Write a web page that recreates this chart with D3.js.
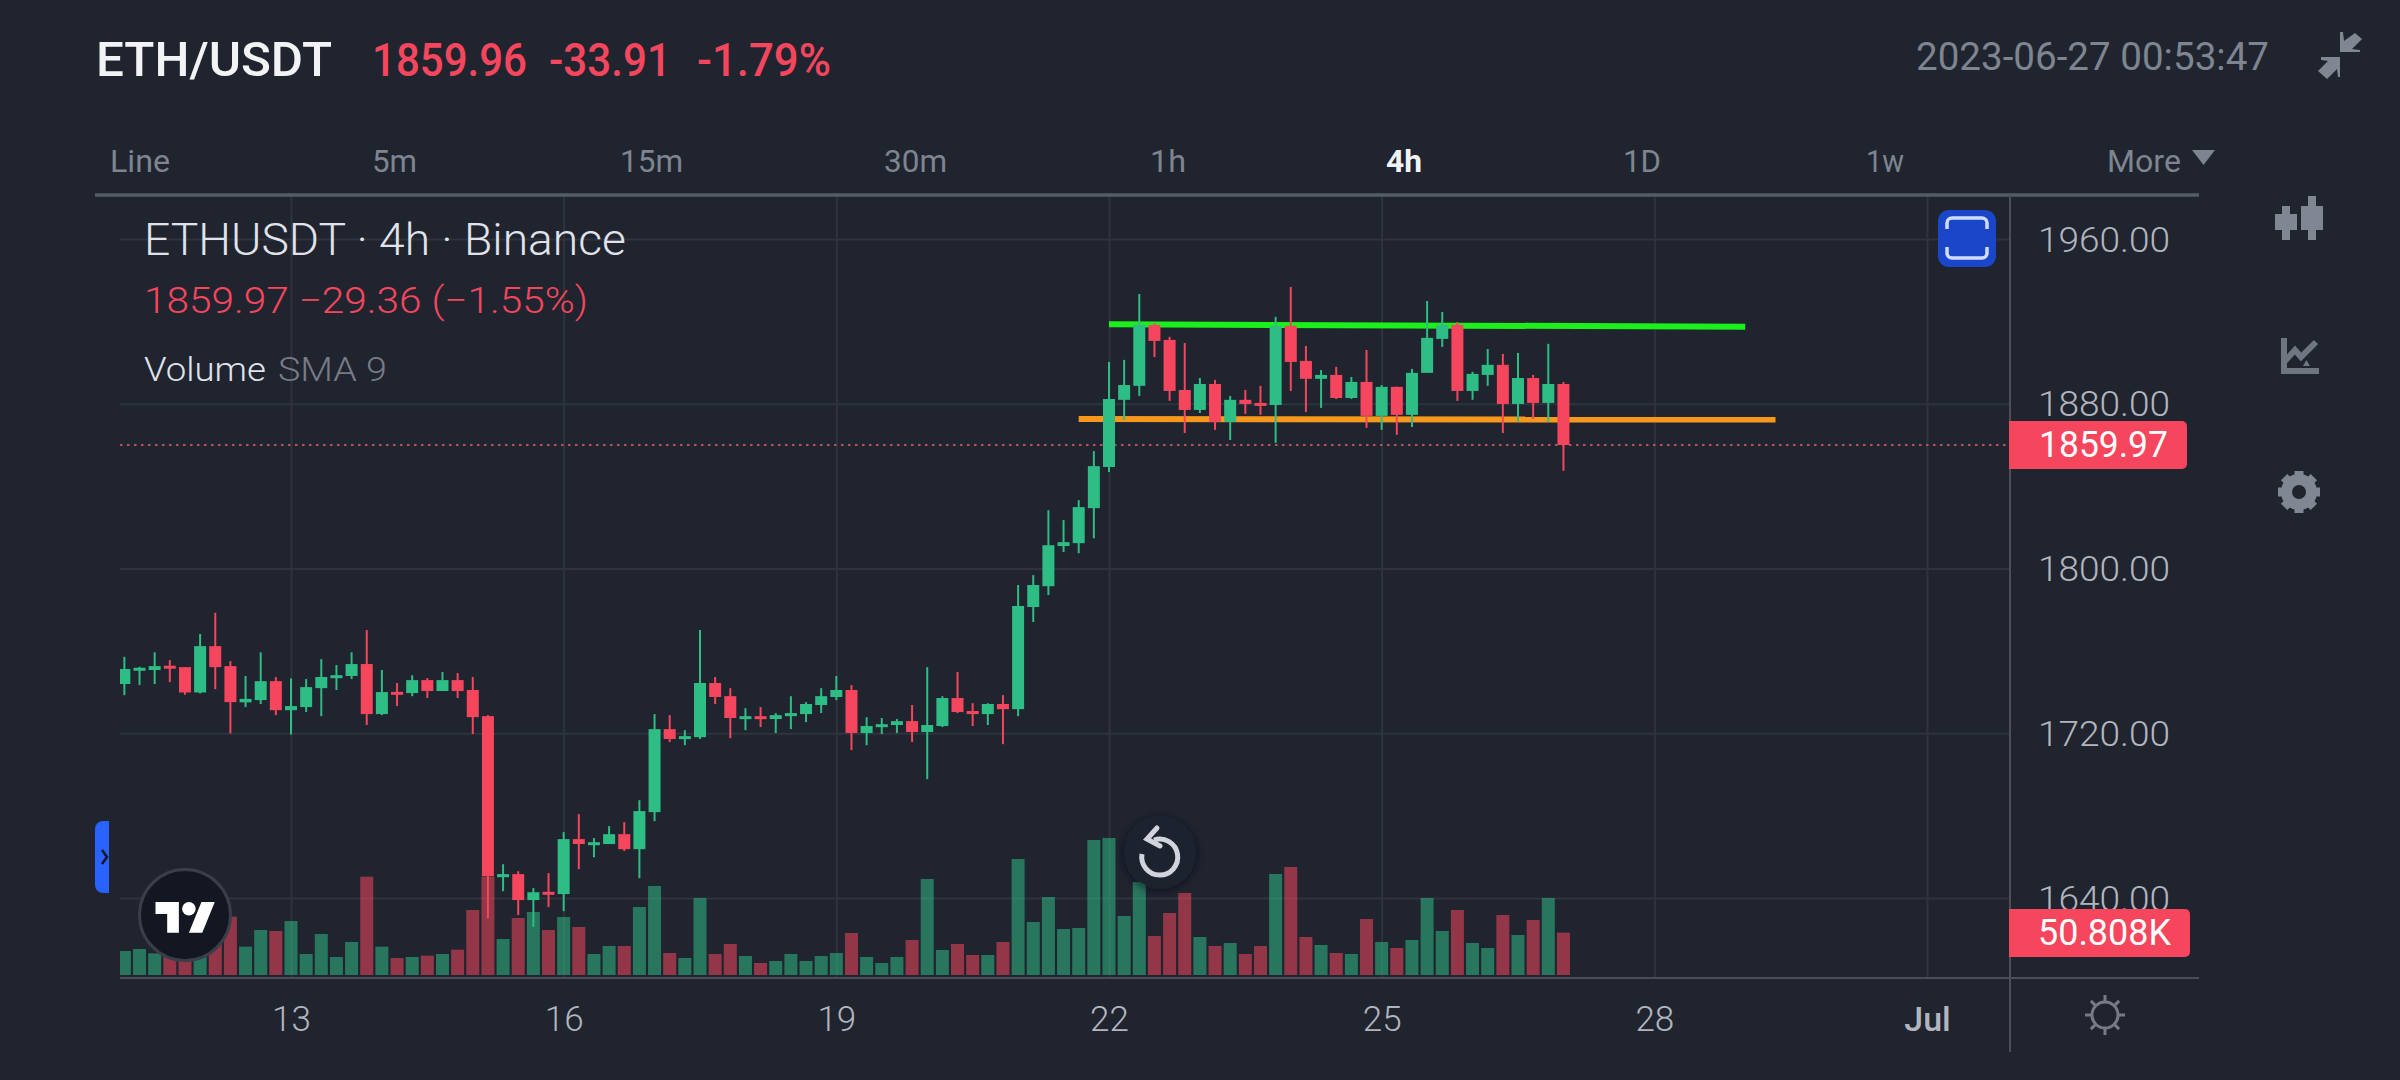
<!DOCTYPE html>
<html><head><meta charset="utf-8">
<script src="https://cdn.jsdelivr.net/npm/d3@7/dist/d3.min.js"></script>
<style>html,body{margin:0;padding:0;background:#1f242f;overflow:hidden}svg{display:block}text{font-family:Roboto,"Open Sans",sans-serif}</style>
</head><body><svg id="c" width="2400" height="1080"></svg>
<script>
const opens=[1743.9,1750.4,1750.7,1752.8,1752.1,1739.8,1762.3,1752.6,1735.0,1736.1,1745.3,1731.2,1732.7,1741.9,1746.8,1747.8,1753.6,1729.3,1740.1,1739.5,1745.8,1740.5,1745.8,1741.0,1728.3,1650.1,1651.6,1639.0,1643.0,1641.9,1668.6,1665.8,1666.2,1671.0,1663.7,1681.7,1722.0,1717.2,1718.1,1744.4,1738.0,1727.4,1728.3,1726.9,1728.3,1729.3,1733.7,1737.6,1741.0,1720.1,1723.0,1724.0,1725.9,1720.6,1723.5,1737.1,1730.8,1729.3,1734.2,1731.7,1781.3,1791.4,1810.9,1812.3,1829.3,1849.3,1881.9,1888.7,1918.3,1911.0,1886.7,1877.0,1889.6,1871.2,1881.9,1880.4,1879.4,1917.8,1900.8,1892.1,1894.0,1882.8,1890.6,1874.1,1888.2,1874.6,1895.0,1911.5,1918.3,1886.2,1894.0,1898.9,1879.9,1892.5,1880.4,1889.6];
const highs=[1757.1,1752.3,1759.3,1755.5,1752.1,1768.2,1778.5,1755.0,1747.8,1759.3,1747.3,1746.6,1746.3,1756.0,1753.1,1759.3,1770.1,1750.7,1744.4,1748.2,1746.8,1749.7,1749.2,1747.3,1728.8,1656.4,1653.0,1644.8,1652.1,1672.0,1680.7,1669.1,1674.9,1676.8,1687.5,1729.3,1728.8,1721.5,1770.1,1747.3,1741.9,1732.2,1732.7,1729.8,1738.0,1735.1,1741.9,1747.8,1743.4,1727.8,1727.4,1726.9,1733.7,1752.1,1738.0,1749.7,1734.6,1734.6,1738.5,1792.0,1796.8,1828.3,1823.5,1833.2,1857.0,1900.3,1901.3,1933.3,1919.1,1912.5,1909.5,1892.5,1891.6,1883.8,1886.7,1888.7,1922.2,1936.7,1908.1,1896.4,1897.9,1893.0,1906.1,1889.1,1888.3,1896.9,1929.9,1924.6,1919.7,1895.5,1906.6,1904.2,1904.7,1894.0,1909.1,1890.6];
const lows=[1738.5,1743.4,1743.9,1744.8,1738.7,1739.3,1741.4,1719.9,1732.7,1734.2,1728.8,1719.4,1730.3,1728.3,1741.0,1746.3,1724.0,1728.8,1733.2,1738.0,1737.1,1740.5,1737.1,1719.6,1630.1,1643.3,1631.7,1626.0,1635.6,1633.6,1654.0,1659.8,1666.2,1662.8,1649.6,1677.3,1715.7,1714.2,1717.2,1734.2,1717.6,1721.5,1723.0,1720.1,1722.0,1725.4,1729.8,1736.1,1711.8,1714.2,1719.6,1720.1,1715.7,1697.7,1723.0,1729.8,1723.5,1724.0,1714.7,1728.3,1774.0,1787.1,1808.0,1807.4,1814.7,1846.9,1872.1,1883.8,1902.7,1881.4,1865.8,1875.5,1867.3,1862.4,1875.1,1874.6,1861.0,1886.2,1876.0,1878.0,1882.3,1882.3,1868.3,1867.3,1864.9,1868.7,1895.0,1907.6,1881.4,1881.9,1888.7,1865.8,1871.2,1872.6,1871.2,1847.4];
const closes=[1751.2,1751.8,1752.6,1751.6,1739.8,1762.3,1752.1,1735.1,1736.7,1745.3,1731.2,1733.2,1742.4,1747.3,1748.2,1753.6,1729.3,1740.0,1739.2,1745.8,1740.5,1745.8,1740.5,1727.8,1650.6,1651.6,1639.0,1642.8,1641.9,1668.6,1666.2,1667.1,1671.0,1663.7,1682.2,1722.0,1717.2,1718.6,1744.4,1737.6,1727.4,1728.3,1726.9,1728.8,1729.8,1734.2,1738.0,1741.0,1720.1,1723.5,1724.4,1725.9,1720.6,1724.0,1737.1,1730.3,1729.3,1734.2,1731.7,1781.8,1792.0,1811.3,1812.8,1829.8,1849.7,1882.3,1889.1,1918.3,1910.5,1886.2,1877.0,1889.6,1871.2,1881.9,1879.9,1879.4,1917.8,1900.3,1892.1,1894.0,1882.8,1890.6,1874.1,1888.2,1874.6,1895.0,1912.0,1918.3,1886.2,1894.5,1898.9,1879.9,1892.5,1880.4,1889.6,1859.97];
const volumes=[28.8,31.2,26,25,32,28,40,70,34,54,52.8,64.8,25.2,49.2,21.6,39.6,118,34,20.4,21.6,23.2,25.2,30.4,78,118,43.2,68.4,75.6,54,69.6,57.6,25.2,34.8,34.8,81.6,106.8,26.4,20.4,92.4,25.2,37.2,22.8,14.4,16.8,25.2,16.8,22.8,26.4,50.4,21.6,14.4,21.6,42,115.2,30,37.2,24,24,39.6,139.2,63.6,93.6,55.2,56.4,162,164.4,70.8,111.6,46.8,74.4,98.4,45.6,34.8,38.4,25.2,34.8,121.2,129.6,45.6,36,26.4,25.2,67.2,39.6,32.4,42,92.4,52.8,78,38.4,32.4,72,48,66,92.4,50.808];
const priceTicks=[1960,1880,1800,1720,1640];
const dayTicks=[13,16,19,22,25,28];
const intervals=["Line","5m","15m","30m","1h","4h","1D","1w"];
const lastPrice=1859.97;
const firstBar=Date.UTC(2023,5,11,4), barMs=4*3600e3;
const greenLine={from:Date.UTC(2023,5,22,0),to:Date.UTC(2023,5,29,0),p0:1918.6,p1:1917.4};
const orangeLine={from:Date.UTC(2023,5,21,16),to:Date.UTC(2023,5,29,8),p0:1872.6,p1:1872.3};

const GREEN="#2ebd85",RED="#f6465d",GRID="#2e333d",AXIS="#4a4e57",TXT="#b2b5be",MUTE="#787b86";
const svg=d3.select("#c");
const L=120,R=2010,T=195,B=978;
const x=d3.scaleUtc().domain([new Date(Date.UTC(2023,5,13)),new Date(Date.UTC(2023,6,1))]).range([291,1927]);
const y=d3.scaleLinear().domain([1640,1960]).range([898,239]);
const v=d3.scaleLinear().domain([0,120]).range([975,875]);
const t=i=>new Date(firstBar+i*barMs);
const bars=d3.range(closes.length).map(i=>({i,d:t(i),o:opens[i],h:highs[i],l:lows[i],c:closes[i],vol:volumes[i]}));

const defs=svg.append("defs");
defs.append("clipPath").attr("id","plot").append("rect").attr("x",L).attr("y",T).attr("width",R-L).attr("height",B-T);
const sh=defs.append("filter").attr("id","shadow").attr("x","-30%").attr("y","-30%").attr("width","160%").attr("height","160%");
sh.append("feDropShadow").attr("dx",0).attr("dy",2).attr("stdDeviation",5).attr("flood-color","#10131a").attr("flood-opacity",.7);
function txt(s,xx,yy,size,fill,o={}){
  const e=svg.append("text").attr("x",xx).attr("y",yy).attr("font-size",size).attr("fill",fill).attr("font-weight",o.w||400).attr("text-anchor",o.a||"start").text(s);
  if(o.len)e.attr("textLength",o.len).attr("lengthAdjust","spacingAndGlyphs");
  return e;
}
// header
txt("ETH/USDT",96,76,48,"#f2f3f5",{w:500,len:236});
txt("1859.96",372,76,46,RED,{w:500,len:155});
txt("-33.91",549,76,46,RED,{w:500,len:122});
txt("-1.79%",697,76,46,RED,{w:500,len:134});
txt("2023-06-27 00:53:47",1916,70,38,"#7e8590",{w:400,len:353});
const tabX=[110,372,620,884,1150,1386,1623,1866],tabW=[60,45,63,63,36,36,38,38];
intervals.forEach((s,i)=>txt(s,tabX[i],172,31,s==="4h"?"#f2f3f5":"#7e8590",{w:s==="4h"?700:400,len:tabW[i]}));
txt("More",2107,172,32,"#7e8590",{len:74});
svg.append("path").attr("d","M2192 150h23l-11.5 15z").attr("fill","#7e8590");

// grid
const gx=svg.append("g").attr("transform",`translate(0,${B})`).call(
  d3.axisBottom(x).tickValues(dayTicks.map(d=>new Date(Date.UTC(2023,5,d))).concat([new Date(Date.UTC(2023,6,1))]))
  .tickSize(-(B-T)).tickPadding(0).tickFormat(d=>d.getUTCMonth()===6?"Jul":d.getUTCDate()));
gx.select(".domain").remove();
gx.selectAll("line").attr("stroke",GRID).attr("stroke-width",2);
gx.selectAll("text").attr("y",53).attr("dy",0).attr("font-size",35).attr("font-weight",300).attr("fill",TXT).attr("font-family","Roboto");
gx.selectAll("text").filter(d=>d.getUTCMonth()===6).attr("font-weight",500).attr("font-size",34);
const gy=svg.append("g").attr("transform",`translate(${R},0)`).call(
  d3.axisRight(y).tickValues(priceTicks).tickSize(-(R-L)).tickPadding(30).tickFormat(d3.format(".2f")));
gy.select(".domain").remove();
gy.selectAll("line").attr("stroke",GRID).attr("stroke-width",2);
gy.selectAll("text").attr("font-size",35).attr("font-weight",300).attr("fill",TXT).attr("font-family","Roboto").attr("dy",0).attr("y",12).attr("x",28).attr("textLength",132).attr("lengthAdjust","spacingAndGlyphs");

// frame
svg.append("line").attr("x1",95).attr("x2",2199).attr("y1",195).attr("y2",195).attr("stroke","#565b64").attr("stroke-width",3.5);
svg.append("line").attr("x1",L).attr("x2",2199).attr("y1",B).attr("y2",B).attr("stroke",AXIS).attr("stroke-width",2);
svg.append("line").attr("x1",R).attr("x2",R).attr("y1",T).attr("y2",1052).attr("stroke",AXIS).attr("stroke-width",2);

const plot=svg.append("g").attr("clip-path","url(#plot)");
// last price line
plot.append("line").attr("x1",L).attr("x2",R).attr("y1",y(lastPrice)).attr("y2",y(lastPrice)).attr("stroke","#b8505f").attr("stroke-width",2).attr("stroke-dasharray","2.5 4.5");
// trend lines
const trend=d3.line().x(d=>x(new Date(d[0]))).y(d=>y(d[1]));
plot.append("path").attr("d",trend([[orangeLine.from,orangeLine.p0],[orangeLine.to,orangeLine.p1]])).attr("stroke","#f7981d").attr("stroke-width",6).attr("fill","none");
plot.append("path").attr("d",trend([[greenLine.from,greenLine.p0],[greenLine.to,greenLine.p1]])).attr("stroke","#1cf01c").attr("stroke-width",6).attr("fill","none");
// candles
const col=b=>b.c>=b.o?GREEN:RED;
const cg=plot.append("g").selectAll("g").data(bars).join("g");
cg.append("line").attr("x1",b=>x(b.d)).attr("x2",b=>x(b.d)).attr("y1",b=>y(b.h)).attr("y2",b=>y(b.l)).attr("stroke",col).attr("stroke-width",2);
cg.append("rect").attr("x",b=>x(b.d)-6).attr("width",12).attr("y",b=>y(Math.max(b.o,b.c))).attr("height",b=>Math.max(3,Math.abs(y(b.o)-y(b.c)))).attr("fill",col);
// volume
plot.append("g").selectAll("rect").data(bars).join("rect").attr("x",b=>x(b.d)-6.5).attr("width",13).attr("y",b=>v(b.vol)).attr("height",b=>v(0)-v(b.vol)).attr("fill",col).attr("opacity",.54);

// legend
txt("ETHUSDT · 4h · Binance",144,255,44,"#e0e3eb",{w:300,len:482});
txt("1859.97  −29.36 (−1.55%)",144,313,37,RED,{w:300,len:444});
txt("Volume",144,381,34,"#e0e3eb",{w:300,len:122});
txt("SMA 9",278,381,34,MUTE,{w:300,len:109});

// price labels
function tag(yy,w){
  svg.append("path").attr("d",`M${R-1} ${yy}h${w-6}a5 5 0 0 1 5 5v38a5 5 0 0 1 -5 5h-${w-6}z`).attr("fill",RED);
}
tag(421,179);
txt("1859.97",2039,457,36,"#fff",{w:400,len:129});
tag(909,182);
txt("50.808K",2038,945,36,"#fff",{w:400,len:133});

// blue screen button
svg.append("rect").attr("x",1938).attr("y",210).attr("width",58).attr("height",57).attr("rx",11).attr("fill","#1a47c9");
svg.append("path").attr("d","M1947 229v-6a5 5 0 0 1 5-5h30a5 5 0 0 1 5 5v6M1947 247v6a5 5 0 0 0 5 5h30a5 5 0 0 0 5-5v-6").attr("fill","none").attr("stroke","#cfdcff").attr("stroke-width",3.5);

// side icons
const ic="#808792";
svg.append("path").attr("fill",ic).attr("d","M2355 33l7 6-10 10 8 1v2l-20 0v-20h3l1 9zM2318 71l10-10-7-1 0-3h19v20h-2l-1-8-10 10z");
svg.append("g").attr("fill",ic).call(g=>{
  g.append("rect").attr("x",2275).attr("y",214).attr("width",22).attr("height",16);
  g.append("rect").attr("x",2282).attr("y",206).attr("width",8).attr("height",34);
  g.append("rect").attr("x",2301).attr("y",206).attr("width",22).attr("height",24);
  g.append("rect").attr("x",2308).attr("y",196).attr("width",8).attr("height",44);
});
svg.append("path").attr("d","M2284 338v33h35M2284 362l11-12 6 7 15-15").attr("fill","none").attr("stroke","#6f7682").attr("stroke-width",6);
svg.append("path").attr("d","M2303 366l7 0 -3.5-6z").attr("fill","#6f7682");
const gear=svg.append("g").attr("transform","translate(2299,492)");
gear.append("circle").attr("r",12.5).attr("fill","none").attr("stroke",ic).attr("stroke-width",11);
d3.range(8).forEach(k=>gear.append("rect").attr("x",-4.5).attr("y",-21).attr("width",9).attr("height",6).attr("fill",ic).attr("transform",`rotate(${k*45})`));
// sun
const sun=svg.append("g").attr("transform","translate(2105,1015)").attr("stroke",MUTE).attr("stroke-width",3).attr("fill","none");
sun.append("circle").attr("r",13);
d3.range(8).forEach(k=>sun.append("line").attr("y1",-14).attr("y2",-20).attr("transform",`rotate(${k*45})`));

// blue side tab
svg.append("path").attr("d","M109 821v72h-6a8 8 0 0 1-8-8v-56a8 8 0 0 1 8-8z").attr("fill","#2962ff");
svg.append("path").attr("d","M102 850l5 7-5 7").attr("fill","none").attr("stroke","#131722").attr("stroke-width",2.5);
// TV logo
svg.append("circle").attr("cx",185).attr("cy",915).attr("r",45.5).attr("fill","#131722").attr("stroke","#3a3e49").attr("stroke-width",3);
svg.append("path").attr("fill","#fff").attr("transform","translate(155.5,895) scale(1.67,1.72)").attr("d","M14 22H7V11H0V4h14v18zM28 22h-8l7.5-18h8L28 22z");
svg.append("circle").attr("cx",155.5+20*1.67).attr("cy",895+8*1.72).attr("r",6.8).attr("fill","#fff");
// reset button
svg.append("circle").attr("cx",1160).attr("cy",852).attr("r",36).attr("fill","#1f242f").attr("filter","url(#shadow)");
svg.append("path").attr("d","M1154 840a18 18 0 1 1 -12 14").attr("fill","none").attr("stroke","#d1d4dc").attr("stroke-width",5);
svg.append("path").attr("d","M1157 828l-10 11 13 7").attr("fill","none").attr("stroke","#d1d4dc").attr("stroke-width",5).attr("stroke-linecap","round");
</script></body></html>
